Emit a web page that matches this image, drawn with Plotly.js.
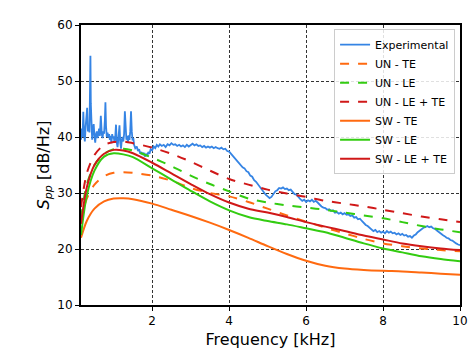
<!DOCTYPE html>
<html>
<head>
<meta charset="utf-8">
<script src="https://cdn.plot.ly/plotly-3.0.1.min.js"></script>
<style>html,body{margin:0;padding:0;background:#fff;}#chart{width:474px;height:361px;}</style>
</head>
<body>
<div id="chart"></div>
<script>
// Experimental spectrum
const expX = [0.15,0.17,0.19,0.21,0.23,0.25,0.27,0.29,0.31,0.33,0.35,0.37,0.385,0.395,0.405,0.42,0.44,0.46,0.48,0.50,0.52,0.54,0.56,0.58,0.60,0.62,0.64,0.665,0.69,0.71,0.73,0.75,0.77,0.785,0.80,0.82,0.84,0.86,0.88,0.90,0.92,0.94,0.96,0.98,1.00,1.02,1.04,1.06,1.08,1.10,1.12,1.15,1.17,1.19,1.21,1.23,1.25,1.27,1.29,1.31,1.33,1.35,1.37,1.39,1.41,1.43,1.45,1.47,1.49,1.51,1.53,1.56,1.60,1.63,1.66,1.69,1.72,1.75,1.78,1.81,1.84,1.87,1.90,1.93,1.96,2.00,2.04,2.08,2.12,2.16,2.20,2.25,2.30,2.35,2.40,2.45,2.50,2.55,2.60,2.65,2.70,2.75,2.80,2.85,2.90,2.95,3.00,3.05,3.10,3.15,3.20,3.25,3.30,3.35,3.40,3.45,3.50,3.55,3.60,3.65,3.70,3.75,3.80,3.85,3.90,3.95,4.00,4.05,4.10,4.15,4.20,4.25,4.30,4.35,4.40,4.45,4.50,4.55,4.60,4.65,4.70,4.75,4.80,4.85,4.90,4.95,5.00,5.05,5.10,5.15,5.20,5.25,5.30,5.35,5.40,5.45,5.50,5.55,5.60,5.65,5.70,5.75,5.80,5.85,5.90,5.95,6.00,6.05,6.10,6.15,6.20,6.25,6.30,6.35,6.40,6.45,6.50,6.55,6.60,6.65,6.70,6.75,6.80,6.85,6.90,6.95,7.00,7.05,7.10,7.15,7.20,7.25,7.30,7.35,7.40,7.45,7.50,7.55,7.60,7.65,7.70,7.75,7.80,7.85,7.90,7.95,8.00,8.05,8.10,8.15,8.20,8.25,8.30,8.35,8.40,8.45,8.50,8.55,8.60,8.65,8.70,8.75,8.80,8.85,8.90,8.95,9.00,9.05,9.10,9.15,9.20,9.25,9.30,9.35,9.40,9.45,9.50,9.55,9.60,9.65,9.70,9.75,9.80,9.85,9.90,9.95,10.0];
const expY = [39.5,41.5,40.0,44.5,40.5,39.2,41.8,43.0,45.2,41.0,42.0,40.8,47.0,54.5,46.0,40.5,39.5,41.5,42.3,40.0,39.0,40.5,41.0,39.8,40.6,41.5,40.2,43.8,40.5,39.8,41.0,40.6,43.0,46.2,42.0,40.0,40.8,39.9,40.5,39.5,40.2,38.9,40.5,39.8,40.1,39.0,40.0,42.2,39.0,38.2,39.5,42.1,39.0,37.9,39.5,40.0,39.2,40.5,44.6,40.5,39.5,40.2,39.0,40.3,39.5,41.0,44.6,41.0,39.4,39.8,38.6,38.0,38.3,37.5,37.8,37.0,37.3,36.8,37.2,36.5,36.9,36.6,37.3,37.0,37.8,37.6,38.3,38.0,38.6,38.3,38.7,38.4,38.6,38.2,38.7,38.5,38.9,38.6,38.7,38.4,38.6,38.3,38.5,38.2,38.6,38.3,38.5,38.8,38.5,38.7,38.4,38.5,38.2,38.4,38.1,38.3,38.1,38.3,38.0,38.2,38.0,37.9,38.1,37.8,37.9,37.5,37.4,37.0,36.8,36.2,36.0,35.4,35.2,34.6,34.4,33.9,33.7,33.1,32.9,32.3,32.0,31.5,31.0,30.6,30.2,29.7,29.4,29.1,29.3,29.8,30.3,30.5,30.9,30.8,31.0,30.7,30.8,30.5,30.6,30.2,29.8,29.7,29.2,28.9,28.6,28.8,28.4,28.7,28.5,28.8,28.4,28.6,28.3,27.9,27.6,27.4,27.3,27.0,27.1,26.8,26.9,26.5,26.6,26.3,26.5,26.2,26.4,26.1,26.2,25.9,26.0,25.6,25.7,25.3,25.4,25.0,24.6,24.3,24.1,23.8,23.5,23.2,23.4,23.0,23.2,22.9,23.1,22.8,23.2,22.9,23.1,22.8,22.9,22.6,22.8,22.5,22.7,22.4,22.5,22.2,22.3,22.0,22.4,22.6,23.0,23.3,23.5,23.8,23.9,24.1,23.9,24.0,23.7,23.6,23.3,23.0,22.8,22.5,22.3,22.0,21.9,21.6,21.5,21.2,21.0,20.8,20.7];

// Model frequencies and predictions
const modelX = [0.15,0.3,0.5,0.75,1.0,1.25,1.5,2,2.5,3,3.5,4,4.5,5,5.5,6,6.5,7,7.5,8,8.5,9,9.5,10];
const unTE   = [25.0,29.0,31.5,33.0,33.6,33.7,33.6,33.1,32.2,30.9,30.0,29.4,28.4,27.2,26.0,24.9,23.8,22.8,21.8,21.0,20.5,20.1,19.8,19.6];
const unLE   = [25.5,31.5,35.0,37.0,37.8,37.9,37.6,36.3,34.8,33.1,31.6,30.3,29.0,28.3,27.8,27.4,27.0,26.5,26.0,25.5,24.8,24.1,23.5,23.0];
const unLETE = [27.5,33.5,36.8,38.6,39.1,39.2,38.9,38.1,37.0,35.6,34.0,32.5,31.5,30.6,29.9,29.3,28.6,28.1,27.6,27.0,26.4,25.8,25.3,24.8];
const swTE   = [22.0,25.0,27.2,28.5,29.0,29.05,28.9,28.1,27.0,25.9,24.7,23.4,22.0,20.5,19.1,17.9,17.0,16.5,16.25,16.1,16.0,15.8,15.6,15.4];
const swLE   = [22.5,29.5,34.0,36.5,37.1,36.9,36.4,34.4,32.4,30.4,28.5,26.9,25.7,25.0,24.4,23.7,23.0,22.0,21.0,20.1,19.4,18.7,18.2,17.8];
const swLETE = [24.5,31.0,35.0,37.0,37.7,37.6,37.1,35.4,33.5,31.6,29.8,28.3,27.2,26.5,25.7,24.8,24.0,23.2,22.4,21.7,21.0,20.5,20.1,19.8];

const xTicks = [2,4,6,8,10];
const yTicks = [10,20,30,40,50,60];

const BLUE='#3584e4', ORANGE='#ff6a10', GREEN='#33cc11', RED='#d01818';
function model(name, y, color, dash){
  return {x: modelX, y: y, name: name, mode:'lines', line:{color:color, width:2, dash:dash, shape:'spline', smoothing:0.8}};
}
const traces = [
  {x: expX, y: expY, name:'Experimental', mode:'lines', line:{color:BLUE, width:1.8}},
  model('UN - TE', unTE, ORANGE, 'dash'),
  model('UN - LE', unLE, GREEN, 'dash'),
  model('UN - LE + TE', unLETE, RED, 'dash'),
  model('SW - TE', swTE, ORANGE, 'solid'),
  model('SW - LE', swLE, GREEN, 'solid'),
  model('SW - LE + TE', swLETE, RED, 'solid')
];

const axisCommon = {
  showline:true, linecolor:'#000', linewidth:2, mirror:true,
  ticks:'outside', ticklen:4, tickwidth:1, tickcolor:'#000',
  showgrid:true, gridcolor:'#000', gridwidth:0.8, griddash:'3px,2px',
  zeroline:false, tickfont:{family:'DejaVu Sans', size:12, color:'#000'}
};
const layout = {
  width:474, height:361,
  margin:{l:81, r:14, t:25, b:56},
  paper_bgcolor:'#fff', plot_bgcolor:'#fff',
  font:{family:'DejaVu Sans', color:'#000'},
  xaxis: Object.assign({}, axisCommon, {range:[0.15,10], tickvals:xTicks, ticktext:xTicks.map(String),
    title:{text:'Frequency [kHz]', font:{family:'DejaVu Sans', size:16, color:'#000'}, standoff:6}}),
  yaxis: Object.assign({}, axisCommon, {range:[10,60], tickvals:yTicks, ticktext:yTicks.map(String),
    title:{text:'<i>S</i><sub><i>pp</i></sub> [dB/Hz]', font:{family:'DejaVu Sans', size:16, color:'#000'}, standoff:4}}),
  showlegend:true,
  legend:{x:0.987, y:0.985, xanchor:'right', yanchor:'top', bgcolor:'rgba(255,255,255,0.85)',
    bordercolor:'#cccccc', borderwidth:1, font:{family:'DejaVu Sans', size:11, color:'#000'},
    tracegroupgap:0, itemwidth:30}
};
Plotly.newPlot('chart', traces, layout, {staticPlot:true, displayModeBar:false});
</script>
</body>
</html>
